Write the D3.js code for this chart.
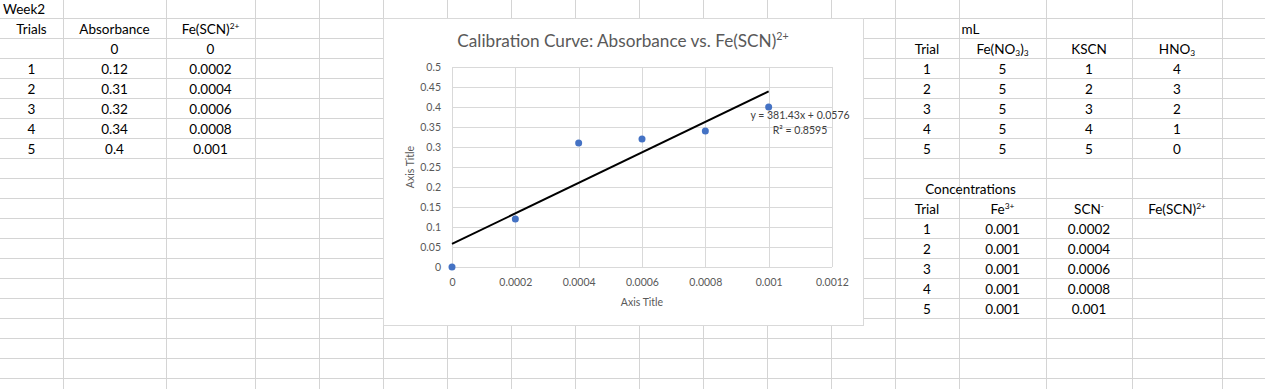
<!DOCTYPE html>
<html>
<head>
<meta charset="utf-8">
<script src="https://cdn.jsdelivr.net/npm/d3@7"></script>
<style>
  body { margin: 0; background: #fff; }
  svg { display: block; font-family: Lato, Carlito, Calibri, sans-serif; }
</style>
</head>
<body>
<svg id="sheet" width="1265" height="389"></svg>
<script>
// left table (Week2)
var trialLabels = ["", "1", "2", "3", "4", "5"];
var absorbance = [0, 0.12, 0.31, 0.32, 0.34, 0.4];
var feScn = [0, 0.0002, 0.0004, 0.0006, 0.0008, 0.001];

// mL table
var mlTrials = [1, 2, 3, 4, 5];
var feNO3 = [5, 5, 5, 5, 5];
var kscn = [1, 2, 3, 4, 5];
var hno3 = [4, 3, 2, 1, 0];

// concentrations table
var concTrials = [1, 2, 3, 4, 5];
var fe3 = [0.001, 0.001, 0.001, 0.001, 0.001];
var scn = [0.0002, 0.0004, 0.0006, 0.0008, 0.001];

// chart axis ticks
var xTicks = [0, 0.0002, 0.0004, 0.0006, 0.0008, 0.001, 0.0012];
var yTicks = [0, 0.05, 0.1, 0.15, 0.2, 0.25, 0.3, 0.35, 0.4, 0.45, 0.5];

var svg = d3.select("#sheet");
var W = 1265, H = 389;

// spreadsheet grid
var colEdges = [0, 63, 166, 255, 319, 383, 447, 511, 575, 639, 703, 767, 831, 895, 959, 1046, 1132, 1222, 1290];
function rowBot(r) { return 18 + 20 * r; }

var grid = svg.append("g").attr("stroke", "#d4d4d4").attr("stroke-width", 1);
d3.range(0, 19).forEach(function(k) {
  grid.append("line").attr("x1", 0).attr("x2", W)
    .attr("y1", 18.5 + 20 * k).attr("y2", 18.5 + 20 * k);
});
colEdges.slice(1).forEach(function(x) {
  grid.append("line").attr("x1", x + 0.5).attr("x2", x + 0.5).attr("y1", 0).attr("y2", H);
});

// rich text: parts = [[text, kind]] kind: "", "sup", "sub"
function rich(t, parts, size) {
  var shift = 0;
  parts.forEach(function(p) {
    var s = t.append("tspan").text(p[0]);
    var target = 0;
    if (p[1] == "sup") { target = -size * 0.38; s.attr("font-size", size * 0.62); }
    if (p[1] == "sub") { target = size * 0.12; s.attr("font-size", size * 0.62); }
    if (target != shift) { s.attr("dy", target - shift); shift = target; }
  });
}

var cellSize = 13.5;
var cells = svg.append("g").attr("font-size", cellSize).attr("fill", "#000");
function cell(c0, c1, r, parts, align) {
  if (typeof parts == "string" || typeof parts == "number") parts = [[String(parts), ""]];
  var x = align == "left" ? colEdges[c0] + 3 : (colEdges[c0] + colEdges[c1 + 1]) / 2;
  var t = cells.append("text")
    .attr("x", x).attr("y", rowBot(r) - 4)
    .attr("text-anchor", align == "left" ? "start" : "middle");
  rich(t, parts, cellSize);
}

cell(0, 0, 0, "Week2", "left");
cell(0, 0, 1, "Trials");
cell(1, 1, 1, "Absorbance");
cell(2, 2, 1, [["Fe(SCN)", ""], ["2+", "sup"]]);
absorbance.forEach(function(a, i) {
  if (trialLabels[i] !== "") cell(0, 0, 2 + i, trialLabels[i]);
  cell(1, 1, 2 + i, String(a));
  cell(2, 2, 2 + i, String(feScn[i]));
});

cell(13, 14, 1, "mL");
cell(13, 13, 2, "Trial");
cell(14, 14, 2, [["Fe(NO", ""], ["3", "sub"], [")", ""], ["3", "sub"]]);
cell(15, 15, 2, "KSCN");
cell(16, 16, 2, [["HNO", ""], ["3", "sub"]]);
mlTrials.forEach(function(t, i) {
  cell(13, 13, 3 + i, t);
  cell(14, 14, 3 + i, feNO3[i]);
  cell(15, 15, 3 + i, kscn[i]);
  cell(16, 16, 3 + i, hno3[i]);
});

cell(13, 14, 9, "Concentrations");
cell(13, 13, 10, "Trial");
cell(14, 14, 10, [["Fe", ""], ["3+", "sup"]]);
cell(15, 15, 10, [["SCN", ""], ["-", "sup"]]);
cell(16, 16, 10, [["Fe(SCN)", ""], ["2+", "sup"]]);
concTrials.forEach(function(t, i) {
  cell(13, 13, 11 + i, t);
  cell(14, 14, 11 + i, String(fe3[i]));
  cell(15, 15, 11 + i, String(scn[i]));
});

// chart object
var chart = svg.append("g");
chart.append("rect")
  .attr("x", 383.5).attr("y", 18.5).attr("width", 480).attr("height", 307)
  .attr("fill", "#fff").attr("stroke", "#d9d9d9");

var x = d3.scaleLinear().domain([0, 0.0012]).range([452, 832]);
var y = d3.scaleLinear().domain([0, 0.5]).range([267, 67]);
var fmt = d3.format("~f");
var tickFont = 10.5;

var yAxis = chart.append("g").attr("transform", "translate(452,0)")
  .call(d3.axisLeft(y).tickValues(yTicks).tickFormat(fmt).tickSize(-(832 - 452)).tickPadding(11));
var xAxis = chart.append("g").attr("transform", "translate(0,267)")
  .call(d3.axisBottom(x).tickValues(xTicks).tickFormat(fmt).tickSize(-(267 - 67)).tickPadding(12));
[xAxis, yAxis].forEach(function(a) {
  a.select(".domain").remove();
  a.selectAll(".tick line").attr("stroke", "#d9d9d9").attr("shape-rendering", "crispEdges");
  a.selectAll(".tick text").attr("fill", "#595959").attr("font-size", tickFont)
    .attr("font-family", "Lato, Carlito, Calibri, sans-serif");
});
// x tick labels go below the plot (tickSize is negative)
xAxis.selectAll(".tick text").attr("y", 12).attr("dy", "0.71em");

// title
var titleSize = 17.2;
var title = chart.append("text").attr("x", 623).attr("y", 47)
  .attr("text-anchor", "middle").attr("font-size", titleSize).attr("fill", "#595959");
rich(title, [["Calibration Curve: Absorbance vs. Fe(SCN)", ""], ["2+", "sup"]], titleSize);

// axis titles
chart.append("text").attr("x", 642).attr("y", 306).attr("text-anchor", "middle")
  .attr("font-size", 10.5).attr("fill", "#595959").text("Axis Title");
chart.append("text").attr("transform", "translate(414,167) rotate(-90)")
  .attr("text-anchor", "middle").attr("font-size", 10.5).attr("fill", "#595959").text("Axis Title");

// points
var pts = feScn.map(function(v, i) { return { x: v, y: absorbance[i] }; });

// linear trendline (least squares)
var mx = d3.mean(pts, function(d) { return d.x; });
var my = d3.mean(pts, function(d) { return d.y; });
var sxy = d3.sum(pts, function(d) { return (d.x - mx) * (d.y - my); });
var sxx = d3.sum(pts, function(d) { return (d.x - mx) * (d.x - mx); });
var syy = d3.sum(pts, function(d) { return (d.y - my) * (d.y - my); });
var slope = sxy / sxx;
var icpt = my - slope * mx;
var r2 = sxy * sxy / (sxx * syy);
var xr = d3.extent(pts, function(d) { return d.x; });

chart.append("line")
  .attr("x1", x(xr[0])).attr("y1", y(slope * xr[0] + icpt))
  .attr("x2", x(xr[1])).attr("y2", y(slope * xr[1] + icpt))
  .attr("stroke", "#000").attr("stroke-width", 2);

chart.append("g").selectAll("circle").data(pts).enter().append("circle")
  .attr("cx", function(d) { return x(d.x); })
  .attr("cy", function(d) { return y(d.y); })
  .attr("r", 3.5).attr("fill", "#4472c4");

chart.append("text").attr("x", 800).attr("y", 119).attr("text-anchor", "middle")
  .attr("font-size", 10.5).attr("fill", "#404040")
  .text("y = " + slope.toFixed(2) + "x + " + icpt.toFixed(4));
chart.append("text").attr("x", 800).attr("y", 134).attr("text-anchor", "middle")
  .attr("font-size", 10.5).attr("fill", "#404040")
  .text("R² = " + r2.toFixed(4));
</script>
</body>
</html>
